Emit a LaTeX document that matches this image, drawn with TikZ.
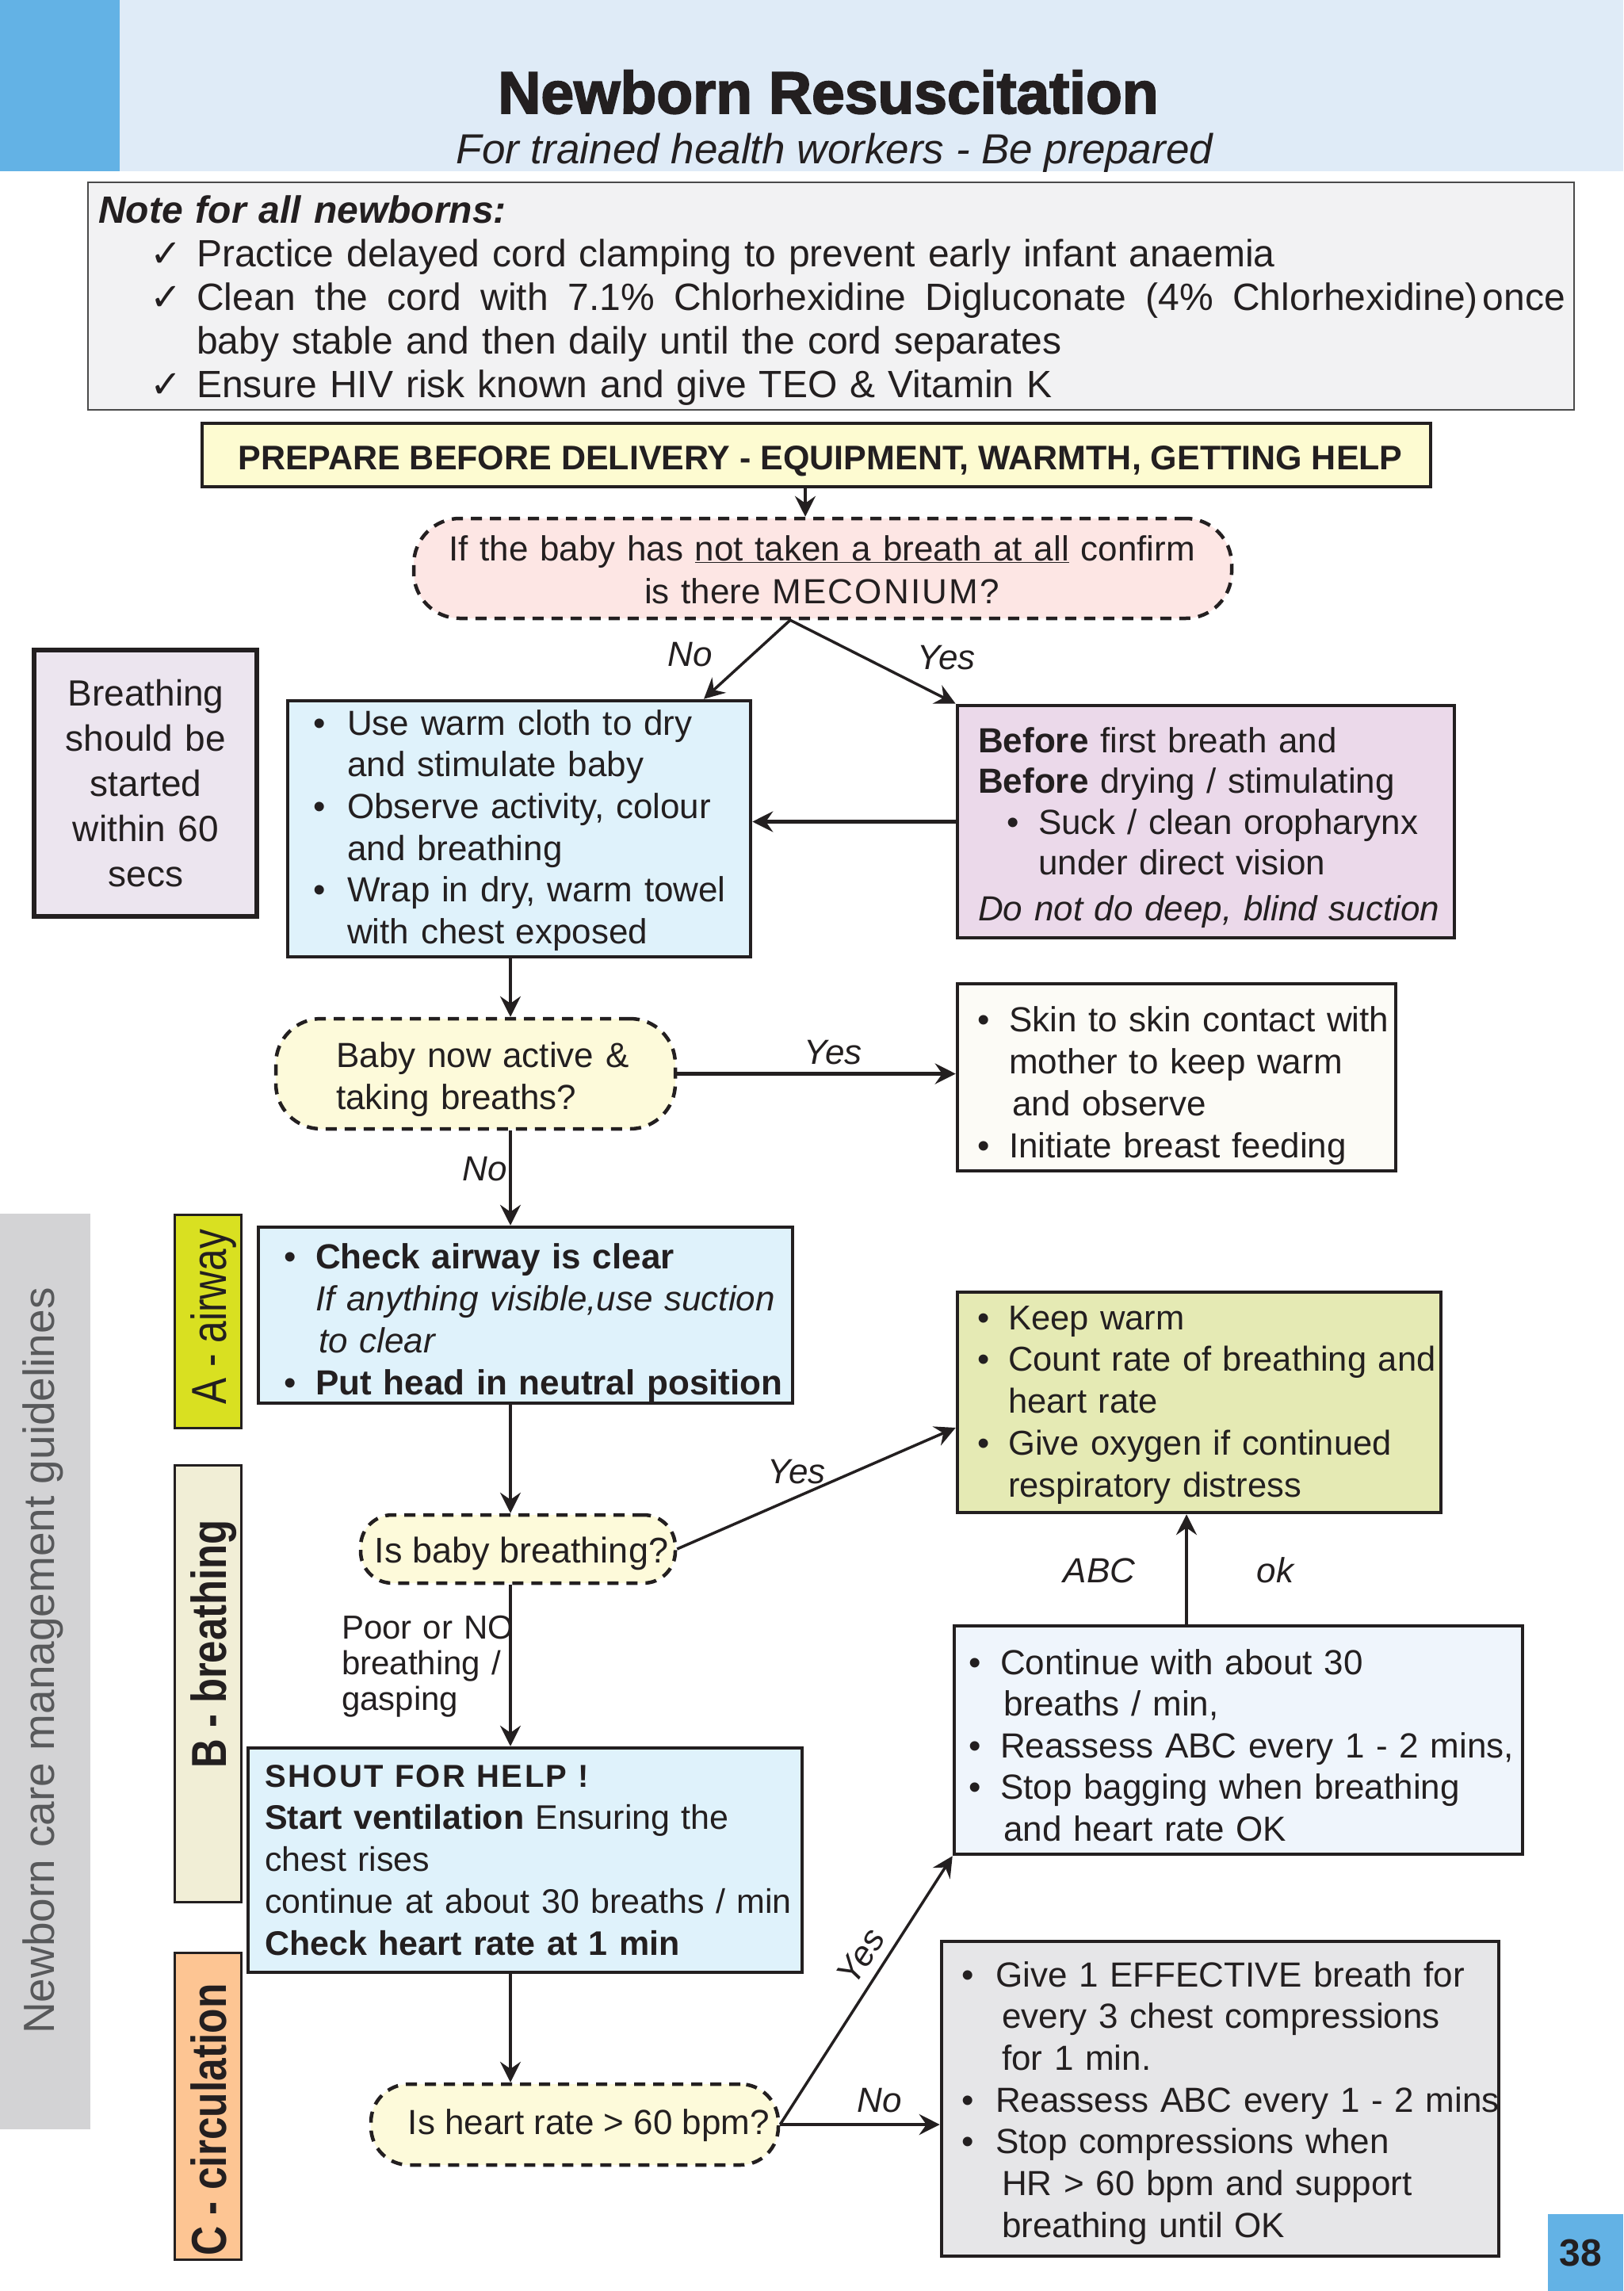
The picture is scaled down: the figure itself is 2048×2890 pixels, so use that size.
\documentclass[tikz,border=0pt]{standalone}
\usepackage{fontspec}
\setmainfont{Liberation Sans}
\newfontfamily\djv{DejaVu Sans}
\usepackage{graphicx}
\usetikzlibrary{arrows.meta}
\definecolor{ink}{HTML}{231F20}
\definecolor{hdr}{HTML}{DFEBF7}
\definecolor{hdrblue}{HTML}{63B2E5}
\definecolor{notefill}{HTML}{F2F2F3}
\definecolor{notegray}{HTML}{4A4A4A}
\definecolor{prepfill}{HTML}{FDFBD1}
\definecolor{mecfill}{HTML}{FDE6E4}
\definecolor{brfill}{HTML}{ECE5EF}
\definecolor{bluefill}{HTML}{DFF2FB}
\definecolor{pinkfill}{HTML}{EBD9EA}
\definecolor{yelfill}{HTML}{FDFADA}
\definecolor{skinfill}{HTML}{FCFBF6}
\definecolor{keepfill}{HTML}{E5EAB4}
\definecolor{contfill}{HTML}{EFF5FC}
\definecolor{givefill}{HTML}{E6E6E8}
\definecolor{sidefill}{HTML}{D3D3D5}
\definecolor{sidetext}{HTML}{58595B}
\definecolor{tabA}{HTML}{D9E021}
\definecolor{tabB}{HTML}{F1EED6}
\definecolor{tabC}{HTML}{FDC593}
\newcommand{\nbb}[1]{\makebox[#1][l]{•}}
\newcommand{\nbi}[1]{\hspace*{#1}}
\newcommand{\nbchk}{\makebox[59pt][l]{\djv ✓}}
\begin{document}
\begin{tikzpicture}[x=1pt,y=-1pt,
  box/.style={draw=ink, line width=4.5pt, inner sep=0pt, rectangle},
  dec/.style={draw=ink, line width=4.5pt, dash pattern=on 14pt off 10pt, inner sep=0pt},
  tab/.style={draw=ink, line width=3pt, inner sep=0pt},
  txt/.style={anchor=base west, inner sep=0pt, align=left, text=ink, font=\fontsize{44}{52.7}\selectfont, text width=#1},
  txt/.default=900pt,
  tx/.style={anchor=base, inner sep=0pt, text=ink, font=\fontsize{44}{50}\selectfont},
  lbl/.style={tx, font=\itshape\fontsize{44}{50}\selectfont},
  conn/.style={draw=ink, line width=3.5pt, -{Stealth[length=26pt,width=26pt,inset=9pt]}},
  vt/.style={rotate=90, anchor=base, inner sep=0pt, text=ink},
]
\useasboundingbox (0,0) rectangle (2048,2890);
% header
\fill[hdr] (0,0) rectangle (2048,216);
\fill[hdrblue] (0,0) rectangle (151,216);
\node[tx, font=\bfseries\fontsize{75}{80}\selectfont\addfontfeature{FakeBold=2.5}] (title) at (1045,143) {Newborn Resuscitation};
\node[tx, font=\itshape\fontsize{53}{60}\selectfont] (sub) at (1053,207) {For trained health workers - Be prepared};

% note box
\node[draw=notegray, line width=2pt, fill=notefill, minimum width=1875pt, minimum height=287pt, inner sep=0pt] (note) at (1048.5,373.5) {};
\node[txt=1000pt, font=\bfseries\itshape\fontsize{48}{55}\selectfont] (nh) at (124,281) {Note for all newborns:};
\node[txt=1790pt, font=\fontsize{48}{55}\selectfont] (nl) at (189,336) {\nbchk Practice delayed cord clamping to prevent early infant anaemia\\
\nbchk\makebox[1727pt][l]{Clean\hfill the\hfill cord\hfill with\hfill 7.1\%\hfill Chlorhexidine\hfill Digluconate\hfill (4\%\hfill Chlorhexidine)\hspace{6pt}once}\\
\nbi{59pt}baby stable and then daily until the cord separates\\
\nbchk Ensure HIV risk known and give TEO \& Vitamin K};

% prepare
\node[box, fill=prepfill, minimum width=1550pt, minimum height=80pt] (prep) at (1030,574) {};
\node[tx, font=\bfseries\fontsize{43}{50}\selectfont] (tprep) at (1035,592) {PREPARE BEFORE DELIVERY - EQUIPMENT, WARMTH, GETTING HELP};

% meconium decision
\node[dec, fill=mecfill, rounded corners=58pt, minimum width=1032pt, minimum height=126pt] (mec) at (1038,717) {};
\node[txt=1020pt, align=center, anchor=base, font=\fontsize{44}{54}\selectfont] (tmec) at (1037,707) {If the baby has \underline{not taken a breath at all} confirm\\is there {\addfontfeature{LetterSpace=5}MECONIUM?}};

% breathing should be started
\node[box, line width=6pt, fill=brfill, minimum width=281pt, minimum height=336pt] (brs) at (183.5,988) {};
\node[txt=280pt, align=center, anchor=base, font=\fontsize{46}{57}\selectfont] (tbrs) at (184,890) {Breathing\\should be\\started\\within 60\\secs};

% dry box
\node[box, fill=bluefill, minimum width=584pt, minimum height=323pt] (dry) at (655,1045.5) {};
\node[txt] (tdry) at (395,927) {\nbb{43pt}Use warm cloth to dry\\\nbi{43pt}and stimulate baby\\\nbb{43pt}Observe activity, colour\\\nbi{43pt}and breathing\\\nbb{43pt}Wrap in dry, warm towel\\\nbi{43pt}with chest exposed};

% pink box
\node[box, fill=pinkfill, minimum width=627pt, minimum height=293pt] (pink) at (1521.5,1036.5) {};
\node[txt, font=\fontsize{44}{51.5}\selectfont] (tpink) at (1234,949) {\textbf{Before} first breath and\\\textbf{Before} drying / stimulating\\\nbi{36pt}\nbb{40pt}Suck / clean oropharynx\\\nbi{76pt}under direct vision};
\node[txt, font=\itshape\fontsize{44}{51.5}\selectfont] (tpink2) at (1234,1161) {Do not do deep, blind suction};

% baby active decision
\node[dec, fill=yelfill, rounded corners=57pt, minimum width=504pt, minimum height=139pt] (baby) at (600,1354.5) {};
\node[txt=400pt, font=\fontsize{44}{53}\selectfont] (tbaby) at (424,1346) {Baby now active \&\\taking breaths?};

% skin box
\node[box, fill=skinfill, minimum width=553pt, minimum height=236pt] (skin) at (1484.5,1359) {};
\node[txt, font=\fontsize{44}{53}\selectfont] (tskin) at (1233,1301) {\nbb{40pt}Skin to skin contact with\\\nbi{40pt}mother to keep warm\\\nbi{44pt}and observe\\\nbb{40pt}Initiate breast feeding};

% side band
\fill[sidefill] (0,1531) rectangle (114,2686);
\node[vt, text=sidetext, font=\fontsize{55}{60}\selectfont] (side) at (68,2095) {Newborn care management guidelines};

% tabs
\node[tab, fill=tabA, minimum width=84pt, minimum height=269pt] (tabA) at (262,1666.5) {};
\node[vt, font=\fontsize{62}{66}\selectfont] (ttabA) at (285,1661) {\scalebox{0.8}[1]{A - airway}};
\node[tab, fill=tabB, minimum width=84pt, minimum height=551pt] (tabB) at (262,2123.5) {};
\node[vt, font=\bfseries\fontsize{62}{66}\selectfont] (ttabB) at (285,2074) {\scalebox{0.82}[1]{B - breathing}};
\node[tab, fill=tabC, minimum width=84pt, minimum height=387pt] (tabC) at (262,2656.5) {};
\node[vt, font=\bfseries\fontsize{62}{66}\selectfont] (ttabC) at (285,2674) {\scalebox{0.83}[1]{C - circulation}};

% A box
\node[box, fill=bluefill, minimum width=674pt, minimum height=222pt] (abox) at (663,1659) {};
\node[txt, font=\fontsize{44}{53}\selectfont] (tabox) at (358,1600) {\nbb{40pt}\textbf{Check airway is clear}\\\nbi{40pt}\textit{If anything visible,use suction}\\\nbi{44pt}\textit{to clear}\\\nbb{40pt}\textbf{Put head in neutral position}};

% is baby breathing decision
\node[dec, fill=yelfill, rounded corners=40pt, minimum width=397pt, minimum height=86pt] (isb) at (653.5,1954) {};
\node[tx, font=\fontsize{45}{50}\selectfont] (tisb) at (658,1971) {Is baby breathing?};

% keep warm box
\node[box, fill=keepfill, minimum width=610pt, minimum height=278pt] (keep) at (1513,1769) {};
\node[txt, font=\fontsize{43.5}{52.8}\selectfont] (tkeep) at (1233,1677) {\nbb{39pt}Keep warm\\\nbb{39pt}Count rate of breathing and\\\nbi{39pt}heart rate\\\nbb{39pt}Give oxygen if continued\\\nbi{39pt}respiratory distress};

% continue box
\node[box, fill=contfill, minimum width=717pt, minimum height=288pt] (cont) at (1562.5,2195) {};
\node[txt, font=\fontsize{44}{52.5}\selectfont] (tcont) at (1222,2112) {\nbb{40pt}Continue with about 30\\\nbi{44pt}breaths / min,\\\nbb{40pt}Reassess ABC every 1 - 2 mins,\\\nbb{40pt}Stop bagging when breathing\\\nbi{44pt}and heart rate OK};

% shout box
\node[box, fill=bluefill, minimum width=699pt, minimum height=283pt] (shout) at (662.5,2346.5) {};
\node[txt, font=\fontsize{43}{53}\selectfont] (tshout) at (334,2254) {{\bfseries\fontsize{40}{53}\selectfont\addfontfeature{LetterSpace=6}SHOUT FOR HELP !}\\\textbf{Start ventilation} Ensuring the\\chest rises\\continue at about 30 breaths / min\\\textbf{Check heart rate at 1 min}};

% heart decision
\node[dec, fill=yelfill, rounded corners=48pt, minimum width=514pt, minimum height=102pt] (heart) at (725,2680) {};
\node[tx] (theart) at (743,2692) {Is heart rate > 60 bpm?};

% give box
\node[box, fill=givefill, minimum width=703pt, minimum height=397pt] (give) at (1539.5,2647.5) {};
\node[txt, font=\fontsize{44}{52.7}\selectfont] (tgive) at (1213,2506) {\nbb{43pt}Give 1 EFFECTIVE breath for\\\nbi{51pt}every 3 chest compressions\\\nbi{51pt}for 1 min.\\\nbb{43pt}Reassess ABC every 1 - 2 mins\\\nbb{43pt}Stop compressions when\\\nbi{51pt}HR > 60 bpm and support\\\nbi{51pt}breathing until OK};

% page number
\node[fill=hdrblue, minimum width=95pt, minimum height=97pt, inner sep=0pt] (pg) at (2000.5,2841.5) {};
\node[tx, font=\bfseries\fontsize{48}{50}\selectfont] (tpg) at (1994,2858) {38};

% labels
\node[lbl] (lno1) at (871,840) {No};
\node[lbl] (lyes1) at (1194,844) {Yes};
\node[lbl] (lyes2) at (1051,1342) {Yes};
\node[lbl] (lno2) at (612,1489) {No};
\node[lbl] (lyes3) at (1005,1871) {Yes};
\node[lbl] (labc) at (1387,1996) {ABC};
\node[lbl] (lok) at (1609,1996) {ok};
\node[txt=300pt, font=\fontsize{42}{45}\selectfont] (lpoor) at (431,2067) {Poor or NO\\breathing /\\gasping};
\node[lbl] (lno3) at (1110,2664) {No};

% connectors
\coordinate (spine) at (644,0);
\coordinate (upx) at (1497,0);
\draw[conn] ([xshift=-14pt]prep.south) -- ([xshift=-14pt]prep.south |- mec.north);
\draw[conn] ([xshift=-41pt]mec.south) -- ([xshift=233pt]dry.north);
\draw[conn] ([xshift=-41pt]mec.south) -- (pink.north west);
\draw[conn, line width=5pt] (pink.west) -- (pink.west -| dry.east);
\draw[conn] (dry.south -| spine) -- (baby.north -| spine);
\draw[conn, line width=5pt] (baby.east) -- (baby.east -| skin.west);
\draw[conn] (baby.south -| spine) -- (abox.north -| spine);
\draw[conn] (abox.south -| spine) -- (isb.north -| spine);
\draw[conn] (isb.east) -- ([yshift=-32pt]keep.west);
\draw[conn] (isb.south -| spine) -- (shout.north -| spine);
\draw[conn] (shout.south -| spine) -- (heart.north -| spine);
\draw[conn] (heart.east) -- node[sloped, above=12pt, pos=0.58, inner sep=0pt, text=ink, font=\itshape\fontsize{44}{50}\selectfont] (lyes4) {Yes} (cont.south west);
\draw[conn, line width=4.5pt] (heart.east) -- (heart.east -| give.west);
\draw[conn] (cont.north -| upx) -- (keep.south -| upx);
\end{tikzpicture}
\end{document}
